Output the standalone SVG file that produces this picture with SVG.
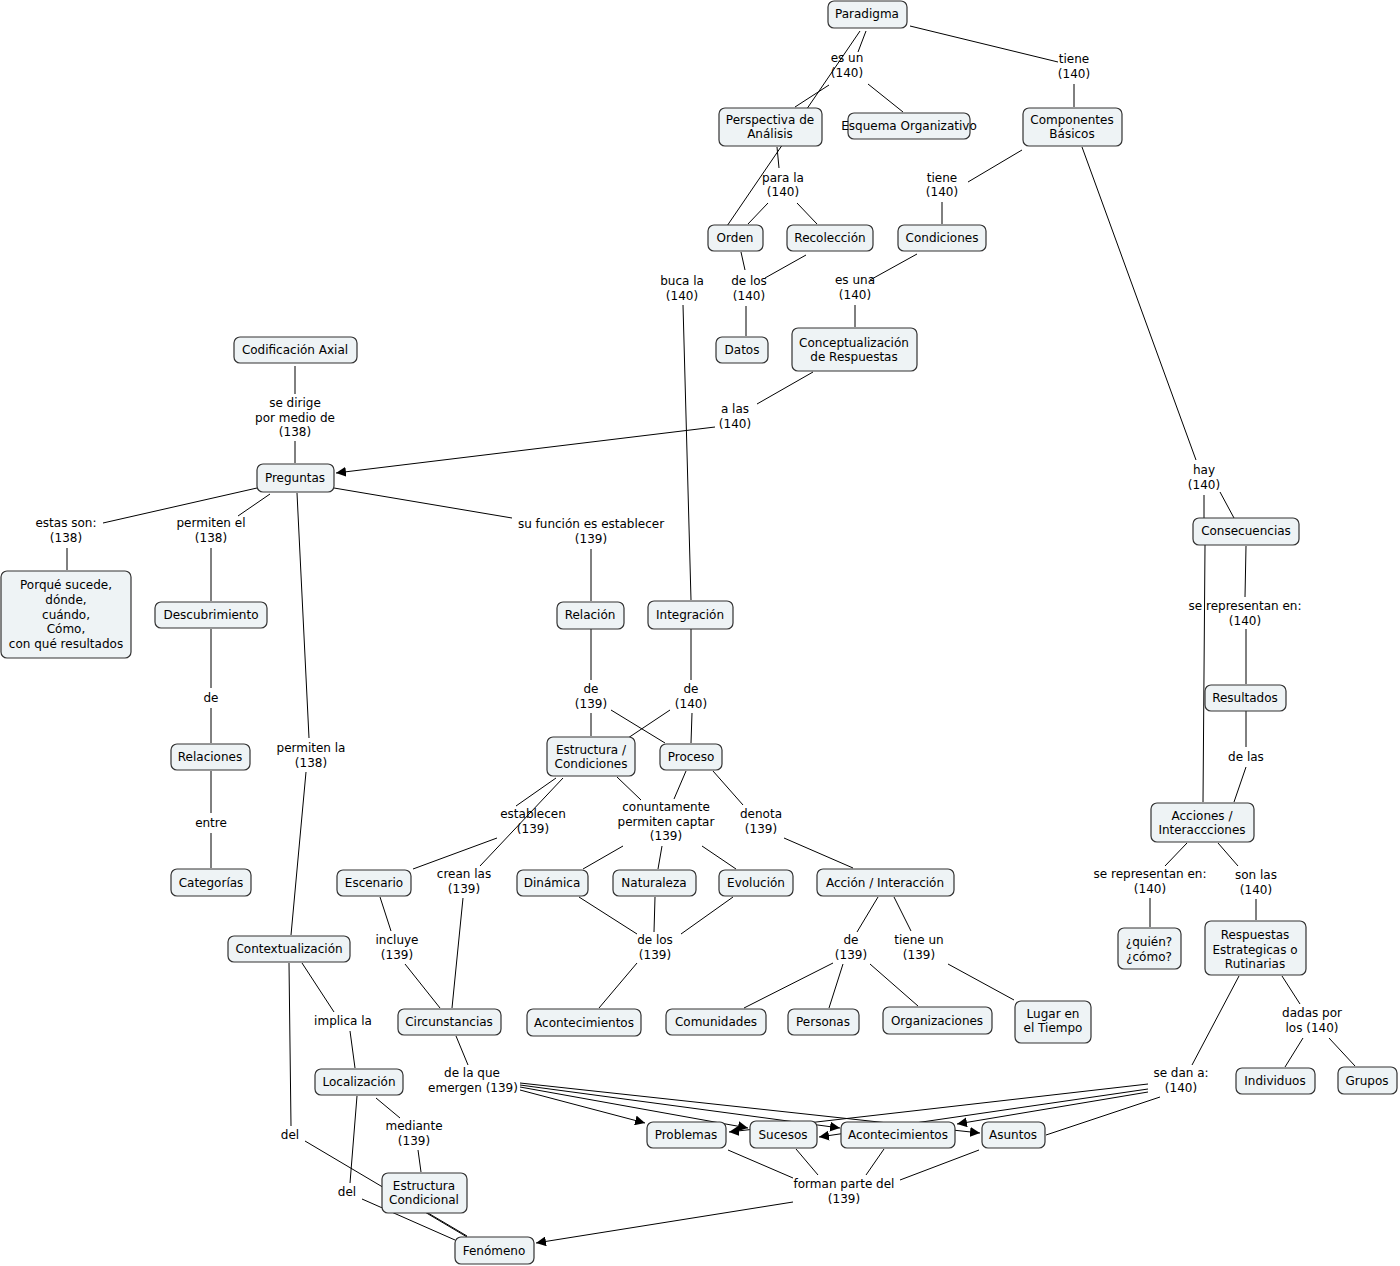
<svg xmlns="http://www.w3.org/2000/svg" width="1400" height="1266" viewBox="0 0 1400 1266">
<style>
.n rect{fill:#eef3f5;stroke:#333;stroke-width:1.2}
text{font-family:"DejaVu Sans",Verdana,sans-serif;font-size:12px;fill:#000;text-anchor:middle}
.c line{stroke:#000;stroke-width:1}
</style>
<defs><marker id="a" viewBox="0 0 10 10" refX="10" refY="5" markerWidth="10" markerHeight="10" markerUnits="userSpaceOnUse" orient="auto"><path d="M0,0L10,5L0,10z"/></marker></defs>
<rect width="1400" height="1266" fill="#fff"/>
<g class="c">
<line x1="860" y1="31" x2="727" y2="226"/><line x1="866" y1="31" x2="858" y2="52"/>
<line x1="829" y1="85" x2="795" y2="107"/><line x1="868" y1="84" x2="903" y2="112"/>
<line x1="910" y1="26" x2="1058" y2="62"/><line x1="1074" y1="84" x2="1074" y2="107"/>
<line x1="777" y1="147" x2="779" y2="168"/><line x1="768" y1="203" x2="748" y2="224"/><line x1="797" y1="203" x2="817" y2="224"/>
<line x1="1022" y1="150" x2="968" y2="182"/><line x1="942" y1="202" x2="942" y2="224"/>
<line x1="1082" y1="147" x2="1196" y2="460"/><line x1="1220" y1="492" x2="1234" y2="518"/><line x1="1204" y1="495" x2="1204" y2="518"/>
<line x1="1205" y1="545" x2="1203" y2="802"/>
<line x1="683" y1="305" x2="691" y2="600"/>
<line x1="741" y1="252" x2="745" y2="270"/><line x1="746" y1="306" x2="746" y2="336"/><line x1="806" y1="255" x2="765" y2="278"/>
<line x1="917" y1="254" x2="870" y2="280"/><line x1="855" y1="305" x2="855" y2="327"/>
<line x1="813" y1="372" x2="757" y2="404"/><line x1="715" y1="427" x2="336" y2="473" marker-end="url(#a)"/>
<line x1="295" y1="366" x2="295" y2="394"/><line x1="295" y1="441" x2="295" y2="463"/>
<line x1="257" y1="488" x2="103" y2="523"/><line x1="67" y1="548" x2="67" y2="570"/>
<line x1="270" y1="494" x2="238" y2="516"/><line x1="211" y1="548" x2="211" y2="601"/>
<line x1="334" y1="488" x2="512" y2="518"/><line x1="591" y1="549" x2="591" y2="601"/>
<line x1="297" y1="493" x2="309" y2="738"/><line x1="306" y1="772" x2="291" y2="935"/>
<line x1="211" y1="629" x2="211" y2="688"/><line x1="211" y1="708" x2="211" y2="743"/>
<line x1="211" y1="771" x2="211" y2="813"/><line x1="211" y1="833" x2="211" y2="868"/>
<line x1="591" y1="629" x2="591" y2="680"/><line x1="591" y1="713" x2="591" y2="736"/><line x1="611" y1="710" x2="665" y2="743"/>
<line x1="691" y1="629" x2="691" y2="680"/><line x1="670" y1="710" x2="628" y2="738"/><line x1="692" y1="713" x2="691" y2="743"/>
<line x1="556" y1="778" x2="516" y2="806"/><line x1="563" y1="778" x2="480" y2="866"/><line x1="617" y1="777" x2="641" y2="800"/>
<line x1="497" y1="838" x2="413" y2="869"/><line x1="463" y1="898" x2="452" y2="1008"/>
<line x1="686" y1="771" x2="674" y2="799"/><line x1="713" y1="771" x2="743" y2="805"/>
<line x1="623" y1="846" x2="583" y2="869"/><line x1="662" y1="846" x2="658" y2="869"/><line x1="702" y1="846" x2="736" y2="869"/>
<line x1="784" y1="838" x2="853" y2="868"/>
<line x1="380" y1="897" x2="391" y2="931"/><line x1="405" y1="964" x2="440" y2="1008"/>
<line x1="579" y1="897" x2="637" y2="934"/><line x1="655" y1="897" x2="654" y2="932"/><line x1="733" y1="897" x2="681" y2="934"/><line x1="637" y1="963" x2="599" y2="1008"/>
<line x1="878" y1="897" x2="857" y2="932"/><line x1="894" y1="897" x2="911" y2="931"/>
<line x1="833" y1="963" x2="744" y2="1008"/><line x1="843" y1="964" x2="829" y2="1008"/><line x1="870" y1="964" x2="918" y2="1006"/><line x1="948" y1="964" x2="1014" y2="1000"/>
<line x1="1246" y1="546" x2="1245" y2="597"/><line x1="1246" y1="629" x2="1246" y2="684"/>
<line x1="1246" y1="711" x2="1246" y2="747"/><line x1="1246" y1="767" x2="1234" y2="802"/>
<line x1="1187" y1="843" x2="1165" y2="866"/><line x1="1150" y1="898" x2="1150" y2="927"/>
<line x1="1218" y1="843" x2="1238" y2="866"/><line x1="1256" y1="899" x2="1256" y2="920"/>
<line x1="1282" y1="976" x2="1300" y2="1004"/><line x1="1303" y1="1038" x2="1285" y2="1067"/><line x1="1329" y1="1038" x2="1355" y2="1066"/>
<line x1="1239" y1="976" x2="1192" y2="1065"/>
<line x1="1148" y1="1084" x2="729" y2="1132" marker-end="url(#a)"/>
<line x1="1148" y1="1089" x2="819" y2="1137" marker-end="url(#a)"/>
<line x1="1148" y1="1092" x2="957" y2="1124" marker-end="url(#a)"/>
<line x1="1160" y1="1097" x2="1046" y2="1135"/>
<line x1="520" y1="1090" x2="645" y2="1123" marker-end="url(#a)"/>
<line x1="520" y1="1087" x2="748" y2="1128" marker-end="url(#a)"/>
<line x1="520" y1="1085" x2="840" y2="1128" marker-end="url(#a)"/>
<line x1="520" y1="1083" x2="980" y2="1133" marker-end="url(#a)"/>
<line x1="456" y1="1036" x2="468" y2="1065"/>
<line x1="728" y1="1150" x2="793" y2="1178"/><line x1="796" y1="1149" x2="818" y2="1175"/><line x1="884" y1="1149" x2="866" y2="1175"/><line x1="979" y1="1150" x2="900" y2="1180"/>
<line x1="793" y1="1202" x2="536" y2="1243" marker-end="url(#a)"/>
<line x1="302" y1="963" x2="334" y2="1012"/><line x1="350" y1="1031" x2="355" y2="1068"/>
<line x1="289" y1="963" x2="291" y2="1126"/><line x1="305" y1="1141" x2="467" y2="1237"/>
<line x1="357" y1="1096" x2="350" y2="1183"/><line x1="362" y1="1199" x2="455" y2="1240"/>
<line x1="376" y1="1098" x2="400" y2="1118"/><line x1="418" y1="1150" x2="421" y2="1172"/>
<line x1="428" y1="1213" x2="467" y2="1236"/>
</g>
<g id="labels">
<text x="847" y="62">es un</text><text x="847" y="77">(140)</text>
<text x="1074" y="63">tiene</text><text x="1074" y="78">(140)</text>
<text x="783" y="182">para la</text><text x="783" y="196">(140)</text>
<text x="942" y="182">tiene</text><text x="942" y="196">(140)</text>
<text x="682" y="285">buca la</text><text x="682" y="300">(140)</text>
<text x="749" y="285">de los</text><text x="749" y="300">(140)</text>
<text x="855" y="284">es una</text><text x="855" y="299">(140)</text>
<text x="295" y="407">se dirige</text><text x="295" y="422">por medio de</text><text x="295" y="436">(138)</text>
<text x="735" y="413">a las</text><text x="735" y="428">(140)</text>
<text x="1204" y="474">hay</text><text x="1204" y="489">(140)</text>
<text x="66" y="527">estas son:</text><text x="66" y="542">(138)</text>
<text x="211" y="527">permiten el</text><text x="211" y="542">(138)</text>
<text x="591" y="528">su función es establecer</text><text x="591" y="543">(139)</text>
<text x="1245" y="610">se representan en:</text><text x="1245" y="625">(140)</text>
<text x="591" y="693">de</text><text x="591" y="708">(139)</text>
<text x="691" y="693">de</text><text x="691" y="708">(140)</text>
<text x="211" y="702">de</text>
<text x="1246" y="761">de las</text>
<text x="311" y="752">permiten la</text><text x="311" y="767">(138)</text>
<text x="533" y="818">establecen</text><text x="533" y="833">(139)</text>
<text x="666" y="811">conuntamente</text><text x="666" y="826">permiten captar</text><text x="666" y="840">(139)</text>
<text x="761" y="818">denota</text><text x="761" y="833">(139)</text>
<text x="211" y="827">entre</text>
<text x="1150" y="878">se representan en:</text><text x="1150" y="893">(140)</text>
<text x="1256" y="879">son las</text><text x="1256" y="894">(140)</text>
<text x="464" y="878">crean las</text><text x="464" y="893">(139)</text>
<text x="397" y="944">incluye</text><text x="397" y="959">(139)</text>
<text x="655" y="944">de los</text><text x="655" y="959">(139)</text>
<text x="851" y="944">de</text><text x="851" y="959">(139)</text>
<text x="919" y="944">tiene un</text><text x="919" y="959">(139)</text>
<text x="343" y="1025">implica la</text>
<text x="1312" y="1017">dadas por</text><text x="1312" y="1032">los (140)</text>
<text x="472" y="1077">de la que</text><text x="473" y="1092">emergen (139)</text>
<text x="1181" y="1077">se dan a:</text><text x="1181" y="1092">(140)</text>
<text x="414" y="1130">mediante</text><text x="414" y="1145">(139)</text>
<text x="290" y="1139">del</text>
<text x="347" y="1196">del</text>
<text x="844" y="1188">forman parte del</text><text x="844" y="1203">(139)</text>
</g>
<g id="n1" class="n"><rect x="828" y="1" width="79" height="27" rx="6"/><text x="867" y="18">Paradigma</text></g>
<g id="n2" class="n"><rect x="719" y="108" width="103" height="38" rx="6"/><text x="770" y="124">Perspectiva de</text><text x="770" y="138">Análisis</text></g>
<g id="n3" class="n"><rect x="848" y="113" width="122" height="26" rx="6"/><text x="909" y="130">Esquema Organizativo</text></g>
<g id="n4" class="n"><rect x="1023" y="108" width="99" height="38" rx="6"/><text x="1072" y="124">Componentes</text><text x="1072" y="138">Básicos</text></g>
<g id="n5" class="n"><rect x="708" y="225" width="55" height="26" rx="6"/><text x="735" y="242">Orden</text></g>
<g id="n6" class="n"><rect x="787" y="225" width="86" height="26" rx="6"/><text x="830" y="242">Recolección</text></g>
<g id="n7" class="n"><rect x="898" y="225" width="88" height="26" rx="6"/><text x="942" y="242">Condiciones</text></g>
<g id="n8" class="n"><rect x="716" y="337" width="52" height="26" rx="6"/><text x="742" y="354">Datos</text></g>
<g id="n9" class="n"><rect x="792" y="328" width="125" height="43" rx="6"/><text x="854" y="347">Conceptualización</text><text x="854" y="361">de Respuestas</text></g>
<g id="n10" class="n"><rect x="234" y="337" width="123" height="26" rx="6"/><text x="295" y="354">Codificación Axial</text></g>
<g id="n11" class="n"><rect x="257" y="464" width="77" height="28" rx="6"/><text x="295" y="482">Preguntas</text></g>
<g id="n12" class="n"><rect x="1193" y="518" width="106" height="27" rx="6"/><text x="1246" y="535">Consecuencias</text></g>
<g id="n13" class="n"><rect x="1" y="571" width="130" height="87" rx="6"/><text x="66" y="589">Porqué sucede,</text><text x="66" y="604">dónde,</text><text x="66" y="619">cuándo,</text><text x="66" y="633">Cómo,</text><text x="66" y="648">con qué resultados</text></g>
<g id="n14" class="n"><rect x="155" y="602" width="112" height="26" rx="6"/><text x="211" y="619">Descubrimiento</text></g>
<g id="n15" class="n"><rect x="557" y="602" width="67" height="27" rx="6"/><text x="590" y="619">Relación</text></g>
<g id="n16" class="n"><rect x="648" y="601" width="85" height="28" rx="6"/><text x="690" y="619">Integración</text></g>
<g id="n17" class="n"><rect x="1205" y="685" width="81" height="26" rx="6"/><text x="1245" y="702">Resultados</text></g>
<g id="n18" class="n"><rect x="171" y="744" width="79" height="26" rx="6"/><text x="210" y="761">Relaciones</text></g>
<g id="n19" class="n"><rect x="547" y="737" width="88" height="39" rx="6"/><text x="591" y="754">Estructura /</text><text x="591" y="768">Condiciones</text></g>
<g id="n20" class="n"><rect x="660" y="744" width="62" height="26" rx="6"/><text x="691" y="761">Proceso</text></g>
<g id="n21" class="n"><rect x="1151" y="803" width="103" height="39" rx="6"/><text x="1202" y="820">Acciones /</text><text x="1202" y="834">Interaccciones</text></g>
<g id="n22" class="n"><rect x="171" y="869" width="80" height="27" rx="6"/><text x="211" y="887">Categorías</text></g>
<g id="n23" class="n"><rect x="337" y="870" width="74" height="26" rx="6"/><text x="374" y="887">Escenario</text></g>
<g id="n24" class="n"><rect x="517" y="870" width="71" height="26" rx="6"/><text x="552" y="887">Dinámica</text></g>
<g id="n25" class="n"><rect x="613" y="870" width="83" height="26" rx="6"/><text x="654" y="887">Naturaleza</text></g>
<g id="n26" class="n"><rect x="719" y="870" width="74" height="26" rx="6"/><text x="756" y="887">Evolución</text></g>
<g id="n27" class="n"><rect x="817" y="869" width="137" height="27" rx="6"/><text x="885" y="887">Acción / Interacción</text></g>
<g id="n28" class="n"><rect x="1118" y="928" width="63" height="41" rx="6"/><text x="1149" y="946">¿quién?</text><text x="1149" y="961">¿cómo?</text></g>
<g id="n29" class="n"><rect x="1205" y="921" width="101" height="54" rx="6"/><text x="1255" y="939">Respuestas</text><text x="1255" y="954">Estrategicas o</text><text x="1255" y="968">Rutinarias</text></g>
<g id="n30" class="n"><rect x="228" y="936" width="122" height="26" rx="6"/><text x="289" y="953">Contextualización</text></g>
<g id="n31" class="n"><rect x="398" y="1009" width="103" height="26" rx="6"/><text x="449" y="1026">Circunstancias</text></g>
<g id="n32" class="n"><rect x="527" y="1009" width="114" height="27" rx="6"/><text x="584" y="1027">Acontecimientos</text></g>
<g id="n33" class="n"><rect x="666" y="1009" width="100" height="26" rx="6"/><text x="716" y="1026">Comunidades</text></g>
<g id="n34" class="n"><rect x="788" y="1009" width="71" height="26" rx="6"/><text x="823" y="1026">Personas</text></g>
<g id="n35" class="n"><rect x="883" y="1007" width="109" height="27" rx="6"/><text x="937" y="1025">Organizaciones</text></g>
<g id="n36" class="n"><rect x="1015" y="1001" width="76" height="42" rx="6"/><text x="1053" y="1018">Lugar en</text><text x="1053" y="1032">el Tiempo</text></g>
<g id="n37" class="n"><rect x="315" y="1069" width="88" height="26" rx="6"/><text x="359" y="1086">Localización</text></g>
<g id="n38" class="n"><rect x="1236" y="1068" width="79" height="26" rx="6"/><text x="1275" y="1085">Individuos</text></g>
<g id="n39" class="n"><rect x="1338" y="1067" width="59" height="27" rx="6"/><text x="1367" y="1085">Grupos</text></g>
<g id="n40" class="n"><rect x="647" y="1122" width="79" height="26" rx="6"/><text x="686" y="1139">Problemas</text></g>
<g id="n41" class="n"><rect x="750" y="1121" width="67" height="27" rx="6"/><text x="783" y="1139">Sucesos</text></g>
<g id="n42" class="n"><rect x="841" y="1122" width="114" height="26" rx="6"/><text x="898" y="1139">Acontecimientos</text></g>
<g id="n43" class="n"><rect x="982" y="1122" width="63" height="26" rx="6"/><text x="1013" y="1139">Asuntos</text></g>
<g id="n44" class="n"><rect x="382" y="1173" width="85" height="40" rx="6"/><text x="424" y="1190">Estructura</text><text x="424" y="1204">Condicional</text></g>
<g id="n45" class="n"><rect x="455" y="1237" width="79" height="27" rx="6"/><text x="494" y="1255">Fenómeno</text></g>
</svg>
